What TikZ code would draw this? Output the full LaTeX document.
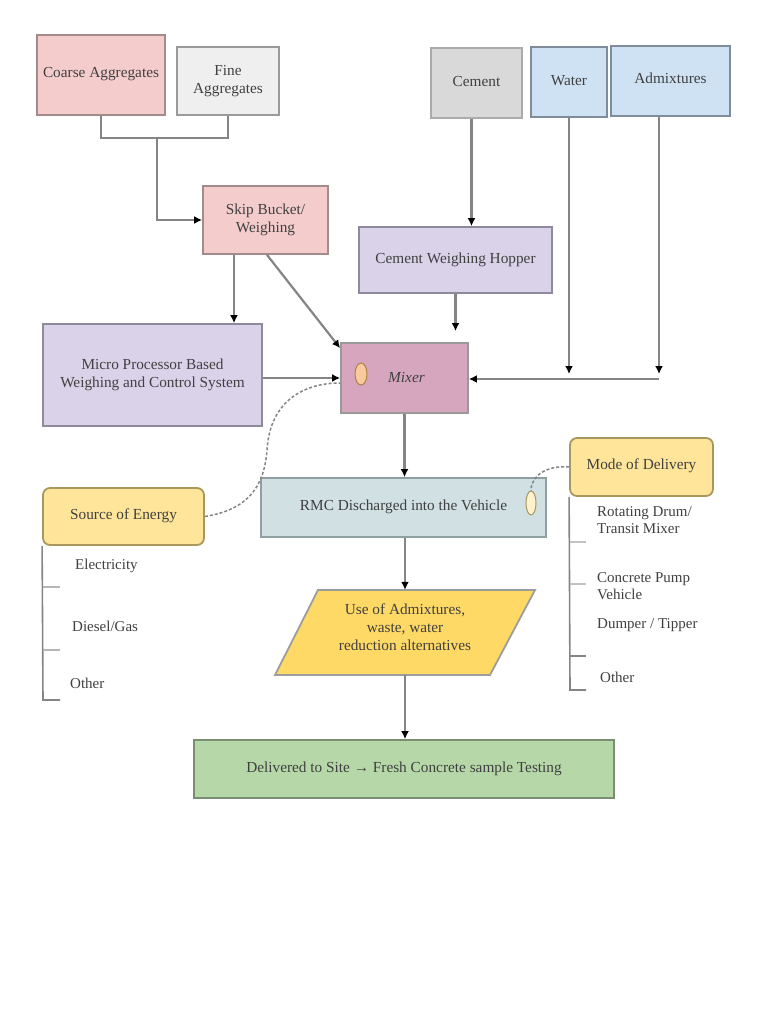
\documentclass[tikz,border=0pt]{standalone}
\usepackage{fontspec}
\setmainfont{Liberation Serif}
\usetikzlibrary{arrows.meta,calc,shapes.geometric}
\definecolor{txt}{HTML}{404040}
\definecolor{pinkf}{HTML}{F4CCCC}\definecolor{pinkd}{HTML}{A38B8B}
\definecolor{finef}{HTML}{EFEFEF}\definecolor{fined}{HTML}{9A9A9A}
\definecolor{cemf}{HTML}{D9D9D9}\definecolor{cemd}{HTML}{ABABAB}
\definecolor{bluef}{HTML}{CFE2F3}\definecolor{blued}{HTML}{7F8C99}
\definecolor{lavf}{HTML}{D9D2E9}\definecolor{lavd}{HTML}{8E8A9C}
\definecolor{mixf}{HTML}{D5A6BD}\definecolor{mixd}{HTML}{999999}
\definecolor{rmcf}{HTML}{D0E0E3}\definecolor{rmcd}{HTML}{8FA0A3}
\definecolor{yelf}{HTML}{FFE599}\definecolor{yeld}{HTML}{A89860}
\definecolor{usef}{HTML}{FFD966}
\definecolor{grnf}{HTML}{B6D7A8}\definecolor{grnd}{HTML}{7A8F70}
\definecolor{oraf}{HTML}{F9CB9C}\definecolor{orad}{HTML}{B07F4A}
\definecolor{crmf}{HTML}{FFF2CC}
\definecolor{line}{HTML}{858585}
\tikzset{
  box/.style={draw, line width=1.8pt, align=center, text=txt, inner sep=1pt,
    font=\fontsize{15.3}{18}\selectfont},
  conn/.style={draw=line, line width=2.2pt},
  arr/.style={conn, -{Latex[color=black,length=8pt,width=8pt]}},
  dconn/.style={draw=line, line width=1.5pt, dash pattern=on 3pt off 2pt},
  item/.style={anchor=west, align=left, text=txt, inner sep=0pt,
    font=\fontsize{15}{17}\selectfont},
}
\begin{document}
\begin{tikzpicture}[x=1pt,y=-1pt]
\useasboundingbox (0,0) rectangle (768,1024);
% top row
\node[box, fill=pinkf, draw=pinkd, minimum width=128, minimum height=80] (coarse) at (101,75) {\raisebox{5pt}{Coarse Aggregates}};
\node[box, fill=finef, draw=fined, minimum width=102, minimum height=68] (fine) at (228,81) {Fine\\Aggregates};
\node[box, fill=cemf, draw=cemd, minimum width=91, minimum height=70] (cement) at (476.5,83) {\raisebox{4pt}{Cement}};
\node[box, fill=bluef, draw=blued, minimum width=76, minimum height=70] (water) at (569,82) {\raisebox{3pt}{Water}};
\node[box, fill=bluef, draw=blued, minimum width=119, minimum height=70] (adm) at (670.5,81) {\raisebox{6pt}{Admixtures}};
% second level
\node[box, fill=pinkf, draw=pinkd, minimum width=125, minimum height=68] (skip) at (265.5,220) {Skip Bucket/\\Weighing};
\node[box, fill=lavf, draw=lavd, minimum width=193, minimum height=66] (hopper) at (455.5,260) {Cement Weighing Hopper};
\node[box, fill=lavf, draw=lavd, minimum width=219, minimum height=102] (micro) at (152.5,375) {Micro Processor Based\\Weighing and Control System};
\node[box, fill=mixf, draw=mixd, minimum width=127, minimum height=70] (mixer) at (404.5,378) {\hspace{4pt}\textit{Mixer}};
\node[draw=orad, fill=oraf, line width=1pt, ellipse, minimum width=12, minimum height=22, inner sep=0pt] (mell) at (361,374) {};
% middle
\node[box, fill=rmcf, draw=rmcd, minimum width=285, minimum height=59] (rmc) at (403.5,507.5) {\raisebox{4pt}{RMC Discharged into the Vehicle}};
\node[draw=yeld, fill=crmf, line width=1pt, ellipse, minimum width=10, minimum height=24, inner sep=0pt] (rell) at (531,503) {};
\node[box, rounded corners=7pt, fill=yelf, draw=yeld, minimum width=143, minimum height=58] (mode) at (641.5,467) {\raisebox{5pt}{Mode of Delivery}};
\node[box, rounded corners=7pt, fill=yelf, draw=yeld, minimum width=161, minimum height=57] (src) at (123.5,516.5) {\raisebox{5pt}{Source of Energy}};
% parallelogram
\coordinate (p1) at (318,590);
\coordinate (p2) at (535,590);
\coordinate (p3) at (490,675);
\coordinate (p4) at (275,675);
\fill[usef] (p1) -- (p2) -- (p3) -- (p4) -- cycle;
\draw[line width=1.8pt, draw=line!80] (p1) -- (p2) -- (p3) -- (p4) -- cycle;
\node[inner sep=0pt, minimum width=200, minimum height=85] (use) at (405,632.5) {};
\node[align=center, text=txt, inner sep=0pt, font=\fontsize{15.3}{18}\selectfont] (usetext) at (405,627) {Use of Admixtures,\\waste, water\\reduction alternatives};
\node[box, fill=grnf, draw=grnd, minimum width=420, minimum height=58] (del) at (404,769) {\raisebox{3pt}{Delivered to Site → Fresh Concrete sample Testing}};
% list items
\node[item] (e1) at (75,566) {Electricity};
\node[item] (e2) at (72,626) {Diesel/Gas};
\node[item] (e3) at (70,683) {Other};
\node[item] (d1) at (597,520) {Rotating Drum/\\Transit Mixer};
\node[item] (d2) at (597,586) {Concrete Pump\\Vehicle};
\node[item] (d3) at (597,625) {Dumper / Tipper};
\node[item] (d4) at (600,677) {Other};
% coordinates
\coordinate (j1) at (101,138);
\coordinate (j2) at (228,138);
\coordinate (j3) at (157,138);
\coordinate (wend) at (569,374);
\coordinate (aend) at (659,374);
\coordinate (acorner) at (659,379);
\coordinate (hend) at (455.5,331);
% connectors
\draw[conn] (coarse.south) -- (j1) -- (j2) -- (fine.south);
\draw[arr] (j3) |- (skip.west);
\draw[arr] ([xshift=-5pt]cement.south) -- ([xshift=-5pt]cement.south |- hopper.north);
\draw[arr] ([xshift=-31.5pt]skip.south) -- ([xshift=-31.5pt]skip.south |- micro.north);
\draw[arr] ([xshift=1.5pt]skip.south) -- ([yshift=-6pt]mixer.north west);
\draw[arr] (hopper.south) -- (hend);
\draw[arr] (micro.east |- mixer.west) -- (mixer.west);
\draw[arr] (water.south) -- (wend);
\draw[arr] ([xshift=-11.5pt]adm.south) -- (aend);
\draw[arr] (acorner) -- (mixer.east |- acorner);
\draw[arr] (mixer.south) -- (mixer.south |- rmc.north);
\draw[arr] (use.north |- rmc.south) -- (use.north);
\draw[arr] (use.south) -- (use.south |- del.north);
\draw[dconn] (src.east) .. controls (245,510) and (264,490) .. (267,450) .. controls (270,400) and (305,383) .. ([yshift=-5pt]mixer.west);
\draw[dconn] (mode.west) .. controls (548,465) and (531,475) .. (rell.north);
% lists
\draw[conn, line width=1.6pt] (src.south west) -- (43,700) -- (60,700);
\draw[conn, line width=1.3pt, draw=line!60] (43,587) -- (60,587);
\draw[conn, line width=1.3pt, draw=line!60] (43,650) -- (60,650);
\draw[conn, line width=1.6pt] (mode.south west) -- (570,690) -- (586,690);
\draw[conn, line width=1.3pt, draw=line!50] (570,542) -- (586,542);
\draw[conn, line width=1.3pt, draw=line!50] (570,584) -- (586,584);
\draw[conn, line width=1.3pt] (570,656) -- (586,656);
\end{tikzpicture}
\end{document}
